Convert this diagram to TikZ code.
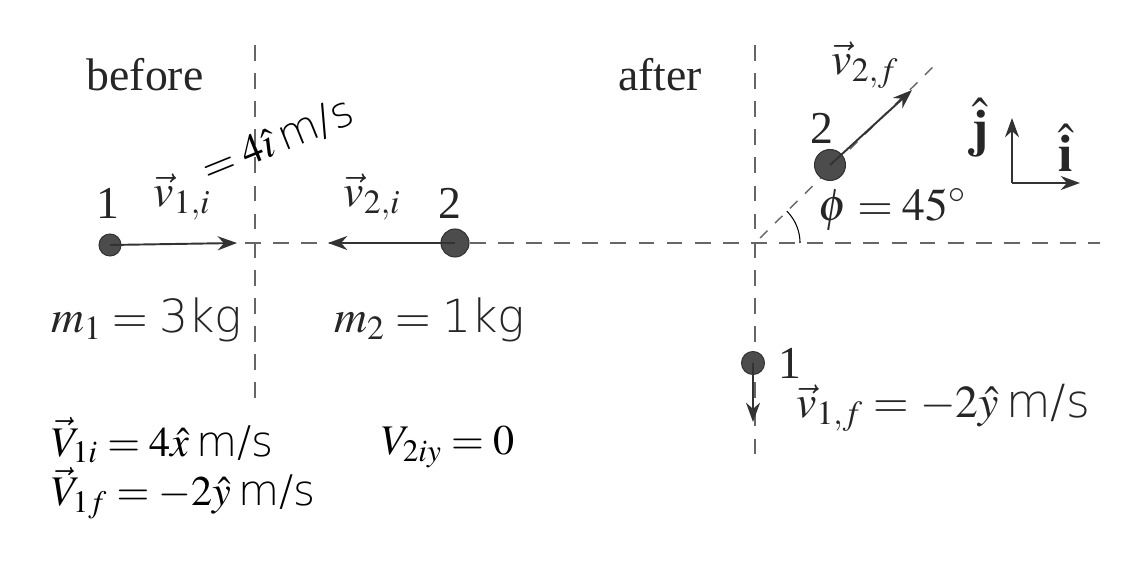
\documentclass[tikz,border=0pt]{standalone}
\usepackage{amsmath, amssymb}
\usepackage{mathptmx}
\usepackage{fontspec}
\setmainfont{Liberation Serif}
\newfontfamily\handfont{DejaVu Sans ExtraLight}
\usetikzlibrary{arrows.meta}

\tikzset{
  guide/.style={gray!80!black, line width=0.8pt, dash pattern=on 9pt off 7pt},
  ball/.style={circle, draw=gray!40!black, fill=gray!60!black, line width=0.6pt, inner sep=0pt},
  velo/.style={-{Stealth[length=11pt,width=8pt]}, line width=1.1pt, black!80},
  lbl/.style={font=\fontsize{26}{28}\selectfont, text=black!85},
  hand/.style={font=\handfont\fontsize{24}{26}\selectfont, text=black},
}

\begin{document}
\begin{tikzpicture}[x=0.02cm, y=-0.02cm]
    \useasboundingbox (0,0) rectangle (1131,570);
    % Guide lines
	\draw[guide] (255,45) coordinate (b1) -- (255,400) coordinate (b2);
	\draw[guide] (755,45) coordinate (a1) -- (755,455) coordinate (a2);
	\draw[guide] (245,243) coordinate (h1) -- (1100,243) coordinate (h2);
	\draw[guide, dash pattern=on 6pt off 6pt] (760,238) coordinate (d1) -- (935,65) coordinate (d2);
	% Before
	\node[lbl] (before) at (145,75) {before};
	\node[ball, minimum size=0.44cm] (m1i) at (110,245) {};
	\node[ball, minimum size=0.56cm] (m2i) at (455,243) {};
	\coordinate (t1i) at (237,243);
	\coordinate (t2i) at (328,243);
	\draw[velo] (m1i.center) -- (t1i);
	\draw[velo] (m2i.center) -- (t2i);
	\node[lbl] (n1i) at (108,203) {1};
	\node[lbl] (n2i) at (450,203) {2};
	\node[lbl] (v1i) at (182,197) {$\vec{v}_{1,i}$};
	\node[lbl] (v2i) at (372,197) {$\vec{v}_{2,i}$};
	\node[hand, rotate=22, anchor=west] (v1ival) at (198,172) {$=4\hat{\imath}$\,m/s};
	\node[lbl, anchor=west] (mass1) at (45,320) {$m_1 = $ \handfont 3kg};
	\node[lbl, anchor=west] (mass2) at (328,320) {$m_2 = $ \handfont 1kg};
	% After
	\node[lbl] (after) at (660,75) {after};
	\node[ball, minimum size=0.62cm] (m2f) at (830,165) {};
	\coordinate (t2f) at (912,90);
	\draw[velo] (m2f.center) -- (t2f);
	\node[lbl] (n2f) at (822,128) {2};
	\node[lbl] (v2f) at (865,65) {$\vec{v}_{2,f}$};
	\draw[line width=0.6pt] plot[domain=0:45, samples=20] ({755+45*cos(\x)},{243-45*sin(\x)});
	\node[lbl, anchor=west] (phi) at (812,210) {$\phi = 45^\circ$};
	\node[ball, minimum size=0.46cm] (m1f) at (753,363) {};
	\coordinate (t1f) at (753,422);
	\draw[velo] (m1f.center) -- (t1f);
	\node[lbl] (n1f) at (790,363) {1};
	\node[lbl, anchor=west] (v1f) at (790,408) {$\vec{v}_{1,f} = $ \handfont $-2\hat{y}$\,m/s};
	% Unit vectors
	\coordinate (o) at (1012,183);
	\coordinate (j) at (1012,118);
	\coordinate (i) at (1080,183);
	\draw[velo, line width=0.9pt] (o) -- (j);
	\draw[velo, line width=0.9pt] (o) -- (i);
	\node[lbl, font=\fontsize{30}{32}\selectfont] (jhat) at (980,128) {$\hat{\mathbf{j}}$};
	\node[lbl, font=\fontsize{30}{32}\selectfont] (ihat) at (1066,148) {$\hat{\mathbf{i}}$};
	% Notes
	\node[hand, anchor=west] (note1) at (45,440) {$\vec{V}_{1i} = 4\hat{x}$\,m/s};
	\node[hand, anchor=west] (note2) at (375,447) {$V_{2iy} = 0$};
	\node[hand, anchor=west] (note3) at (45,493) {$\vec{V}_{1f} = -2\hat{y}$\,m/s};
\end{tikzpicture}
\end{document}
